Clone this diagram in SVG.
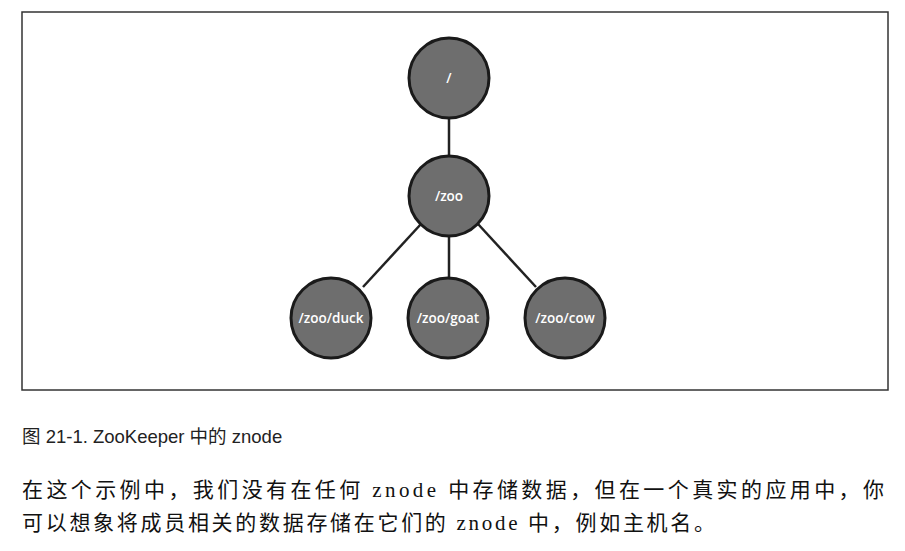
<svg xmlns="http://www.w3.org/2000/svg" width="905" height="551" viewBox="0 0 905 551">
<style>
.n circle{fill:#6e6e6e;stroke:#1a1a1a;stroke-width:3}
.n text{fill:#fff;font-family:"Open Sans","DejaVu Sans",sans-serif;font-size:13.5px;font-weight:600;text-anchor:middle}
.c line{stroke:#222;stroke-width:2.5}
.cap{font-family:"Liberation Sans","Noto Sans CJK SC",sans-serif;font-size:18.5px;fill:#222}
.p{font-family:"Liberation Serif","Noto Sans CJK SC",serif;font-size:21px;fill:#111}
</style>
<rect width="905" height="551" fill="#fff"/>
<rect x="22" y="12" width="866" height="378" fill="none" stroke="#333" stroke-width="1.5"/>
<g class="c">
<line x1="449" y1="118" x2="449" y2="156"/>
<line x1="421" y1="224" x2="363" y2="287"/>
<line x1="449" y1="236" x2="449" y2="278"/>
<line x1="478" y1="224" x2="536" y2="287"/>
</g>
<g id="root" class="n"><circle cx="449" cy="78" r="40"/><text x="449" y="83">/</text></g>
<g id="zoo" class="n"><circle cx="449" cy="196" r="40"/><text x="449" y="201">/zoo</text></g>
<g id="duck" class="n"><circle cx="331" cy="318" r="40"/><text x="331" y="323">/zoo/duck</text></g>
<g id="goat" class="n"><circle cx="448" cy="318" r="40"/><text x="448" y="323">/zoo/goat</text></g>
<g id="cow" class="n"><circle cx="565" cy="318" r="40"/><text x="565" y="323">/zoo/cow</text></g>
<text class="cap" x="22" y="443">图 21-1. ZooKeeper 中的 znode</text>
<text class="p" x="22" y="497" textLength="862" lengthAdjust="spacing">在这个示例中，我们没有在任何 znode 中存储数据，但在一个真实的应用中，你</text>
<text class="p" x="22" y="530" textLength="693" lengthAdjust="spacing">可以想象将成员相关的数据存储在它们的 znode 中，例如主机名。</text>
</svg>
